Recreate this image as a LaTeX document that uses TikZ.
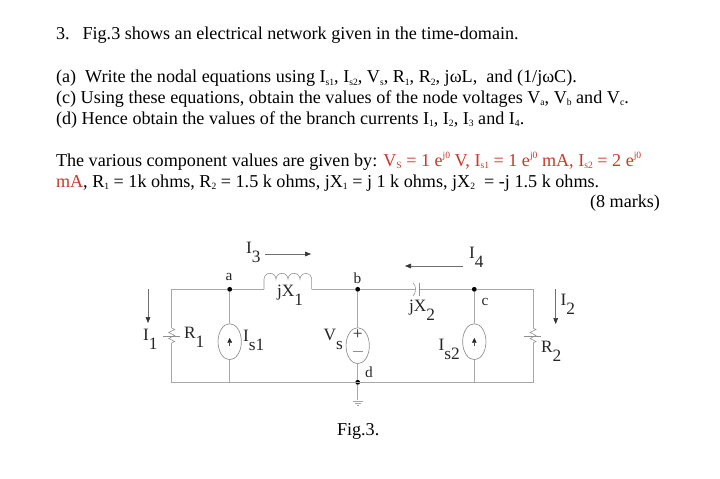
\documentclass[tikz,border=0pt]{standalone}
\usepackage{fontspec}
\setmainfont{Liberation Serif}
\usetikzlibrary{arrows.meta,shapes.geometric}
\definecolor{redtxt}{HTML}{C8392B}
\definecolor{wirec}{HTML}{A8A8A8}
\definecolor{arrc}{HTML}{707070}
\newcommand{\lsub}[1]{\raisebox{-0.3ex}{\fontsize{7.2}{7.2}\selectfont #1}}
\newcommand{\lsup}[1]{\raisebox{0.9ex}{\fontsize{7.2}{7.2}\selectfont #1}}
\newcommand{\csub}[1]{\raisebox{-1.15ex}{#1}}
\tikzset{
  x=0.75pt,y=-0.75pt,
  line/.style={anchor=base west,inner sep=0pt,outer sep=0pt,font=\fontsize{13.6}{13.6}\selectfont},
  clabel/.style={inner sep=0pt,outer sep=0pt,text=black!85,font=\fontsize{13}{13}\selectfont},
  nodelabel/.style={inner sep=0pt,outer sep=0pt,text=black!85,font=\fontsize{11.5}{11.5}\selectfont},
  wire/.style={draw=wirec,line width=0.6pt},
  thin wire/.style={draw=wirec!85!black,line width=0.4pt},
  dotnode/.style={circle,fill=black,inner sep=0pt,minimum size=3.6pt},
  srcnode/.style={ellipse,draw=wirec!85!black,line width=0.5pt,fill=white,inner sep=0pt,minimum width=17.5pt,minimum height=27pt},
  curarrow/.style={draw=arrc,line width=0.4pt,-{Triangle[length=4.5pt,width=3.5pt,fill=black!80,color=black!80]}},
  srcarrow/.style={draw=black!70,line width=0.4pt,-{Triangle[length=3.5pt,width=3.5pt,fill=black!85,color=black!85]}},
}
\begin{document}
\begin{tikzpicture}
\useasboundingbox (0,0) rectangle (720,478);
\fill[white] (0,0) rectangle (720,478);
% text
\node[line] (t1) at (56,40) {3.\hspace{9.7pt}Fig.3 shows an electrical network given in the time-domain.};
\node[line] (t2) at (56,83) {(a)\ \ Write the nodal equations using I\lsub{s1}, I\lsub{s2}, V\lsub{s}, R\lsub{1}, R\lsub{2}, jωL,\ \ and (1/jωC).};
\node[line] (t3) at (56,103.5) {(c) Using these equations, obtain the values of the node voltages V\lsub{a}, V\lsub{b} and V\lsub{c}.};
\node[line] (t4) at (56,124.5) {(d) Hence obtain the values of the branch currents I\lsub{1}, I\lsub{2}, I\lsub{3} and I\lsub{4}.};
\node[line] (t5) at (56,166) {The various component values are given by: \textcolor{redtxt}{V\lsub{S} = 1 e\lsup{j0} V, I\lsub{s1} = 1 e\lsup{j0} mA, I\lsub{s2} = 2 e\lsup{j0}}};
\node[line] (t6) at (56,187) {\textcolor{redtxt}{mA}, R\lsub{1} = 1k ohms, R\lsub{2} = 1.5 k ohms, jX\lsub{1} = j 1 k ohms, jX\lsub{2}\ \ = -j 1.5 k ohms.};
\node[line,anchor=base east] (t7) at (660,207) {(8 marks)};
\node[line] (figcap) at (337,435) {Fig.3.};
% junctions
\coordinate (tl) at (171.7,289.3);
\coordinate (bl) at (171.7,382.3);
\coordinate (tr) at (533,289.3);
\coordinate (br) at (533,382.3);
\node[dotnode] (a) at (229.7,289.3) {};
\node[dotnode] (b) at (357.7,289.3) {};
\node[dotnode] (c) at (474.3,289.3) {};
\node[dotnode] (d) at (357.7,382.3) {};
\coordinate (abot) at (229.7,382.3);
\coordinate (cbot) at (474.3,382.3);
\coordinate (gnd) at (357.7,400);
% sources
\node[srcnode] (is1) at (229.7,341.7) {};
\node[srcnode] (vs) at (357.7,345.7) {};
\node[srcnode] (is2) at (474.3,341.7) {};
% element ends
\coordinate (l1) at (264,289.3);
\coordinate (l2) at (311.7,289.3);
\coordinate (c1) at (414.5,289.3);
\coordinate (c2) at (419,289.3);
\coordinate (r1a) at (171.7,328);
\coordinate (r1b) at (171.7,343);
\coordinate (r2a) at (533,328);
\coordinate (r2b) at (533,343);
% wires
\draw[wire] (r1a) -- (tl) -- (a) -- (l1);
\draw[wire] (l2) -- (b) -- (c1);
\draw[wire] (c2) -- (c) -- (tr) -- (r2a);
\draw[wire] (r2b) -- (br) -- (bl) -- (r1b);
\draw[wire] (a) -- (is1);
\draw[wire] (is1) -- (abot);
\draw[wire] (b) -- (vs);
\draw[wire] (vs) -- (d);
\draw[wire] (c) -- (is2);
\draw[wire] (is2) -- (cbot);
\draw[wire] (d) -- (gnd);
% ground
\draw[wire] (352.7,401) -- (362.7,401);
\draw[wire] (354.5,403) -- (360.9,403);
\draw[wire] (356.5,405) -- (358.9,405);
% inductor
\draw[thin wire] (l1) -- ++(0,-10) arc[start angle=180,end angle=360,radius=6] arc[start angle=180,end angle=360,radius=6] arc[start angle=180,end angle=360,radius=6] arc[start angle=180,end angle=360,radius=5.85] -- (l2);
% capacitor
\draw[thin wire] (413,283) .. controls (416.5,286) and (416.5,292) .. (413,296);
\draw[thin wire] (419,283) -- (419,296);
% resistors
\draw[thin wire] (r1a) -- ++(3,1.5) -- ++(-6,3) -- ++(6,3) -- ++(-6,3) -- ++(6,3) -- ++(-3,1.5);
\draw[thin wire] (163,336) -- (180,336);
\draw[thin wire] (r2a) -- ++(3,1.5) -- ++(-6,3) -- ++(6,3) -- ++(-6,3) -- ++(6,3) -- ++(-3,1.5);
\draw[thin wire] (524,336) -- (541,336);
% source internals
\draw[srcarrow] (229.7,346) -- (229.7,338);
\draw[srcarrow] (474.3,346) -- (474.3,338);
\node[clabel] (plus) at (357.7,335) {+};
\draw[thin wire] (353,351) -- (362.5,351);
% current arrows
\coordinate (i1s) at (148,289);
\coordinate (i1e) at (148,323);
\coordinate (i2s) at (555.7,289);
\coordinate (i2e) at (555.7,324);
\coordinate (i3s) at (265,254);
\coordinate (i3e) at (311,254);
\coordinate (i4s) at (463,266);
\coordinate (i4e) at (405,266);
\draw[curarrow] (i1s) -- (i1e);
\draw[curarrow] (i2s) -- (i2e);
\draw[curarrow] (i3s) -- (i3e);
\draw[curarrow] (i4s) -- (i4e);
% labels
\node[nodelabel] (la) at (229,277) {a};
\node[nodelabel] (lb) at (357.5,278) {b};
\node[nodelabel] (lc) at (485,302) {c};
\node[nodelabel] (ld) at (369,372) {d};
\node[clabel,anchor=base west] (li1) at (143,340) {I\csub{1}};
\node[clabel,anchor=base west] (li2) at (560.7,305) {I\csub{2}};
\node[clabel,anchor=base west] (li3) at (246,253) {I\csub{3}};
\node[clabel,anchor=base west] (li4) at (469,258) {I\csub{4}};
\node[clabel,anchor=base west] (lr1) at (184,338) {R\csub{1}};
\node[clabel,anchor=base west] (lr2) at (541,352) {R\csub{2}};
\node[clabel,anchor=base west] (lx1) at (277,296) {jX\csub{1}};
\node[clabel,anchor=base west] (lx2) at (409,311) {jX\csub{2}};
\node[clabel,anchor=base west] (lis1) at (243,341) {I\csub{s1}};
\node[clabel,anchor=base west] (lis2) at (438.5,350) {I\csub{s2}};
\node[clabel,anchor=base west] (lvs) at (323.5,340) {V\csub{s}};
\end{tikzpicture}
\end{document}
